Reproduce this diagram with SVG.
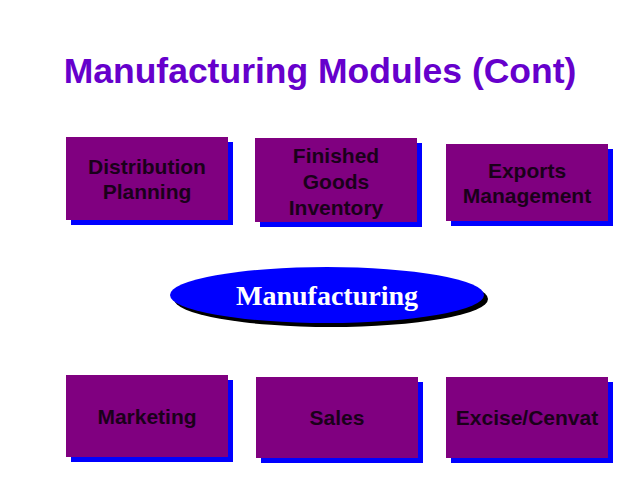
<svg xmlns="http://www.w3.org/2000/svg" width="638" height="478" viewBox="0 0 638 478">
<style>
.sh{fill:#0000ff}
.bx{fill:#800080}
.t{font-family:"Liberation Sans",Arial,sans-serif;font-weight:bold;font-size:21px;fill:#1a001a;text-anchor:middle}
</style>
<rect width="638" height="478" fill="#fff"/>
<text x="320" y="83" font-family="Liberation Sans,Arial,sans-serif" font-weight="bold" font-size="35.5" fill="#6600cc" text-anchor="middle">Manufacturing Modules (Cont)</text>
<g id="n1"><rect class="sh" x="71" y="142" width="162" height="83"/><rect class="bx" x="66" y="137" width="162" height="83"/><text class="t" x="147" y="174">Distribution</text><text class="t" x="147" y="199">Planning</text></g>
<g id="n2"><rect class="sh" x="260" y="143" width="162" height="84"/><rect class="bx" x="255" y="138" width="162" height="84"/><text class="t" x="336" y="163">Finished</text><text class="t" x="336" y="189">Goods</text><text class="t" x="336" y="215">Inventory</text></g>
<g id="n3"><rect class="sh" x="451" y="149" width="162" height="77"/><rect class="bx" x="446" y="144" width="162" height="77"/><text class="t" x="527" y="178">Exports</text><text class="t" x="527" y="203">Management</text></g>
<g id="n4"><ellipse cx="331" cy="299" rx="157" ry="28" fill="#000"/><ellipse cx="327" cy="295" rx="157" ry="28" fill="#0000ff"/><text x="327" y="305" font-family="Liberation Serif,Times New Roman,serif" font-weight="bold" font-size="28" fill="#fff" text-anchor="middle">Manufacturing</text></g>
<g id="n5"><rect class="sh" x="71" y="380" width="162" height="82"/><rect class="bx" x="66" y="375" width="162" height="82"/><text class="t" x="147" y="424">Marketing</text></g>
<g id="n6"><rect class="sh" x="261" y="382" width="162" height="81"/><rect class="bx" x="256" y="377" width="162" height="81"/><text class="t" x="337" y="425">Sales</text></g>
<g id="n7"><rect class="sh" x="451" y="382" width="162" height="81"/><rect class="bx" x="446" y="377" width="162" height="81"/><text class="t" x="527" y="425">Excise/Cenvat</text></g>
<g id="connectors"/>
</svg>
